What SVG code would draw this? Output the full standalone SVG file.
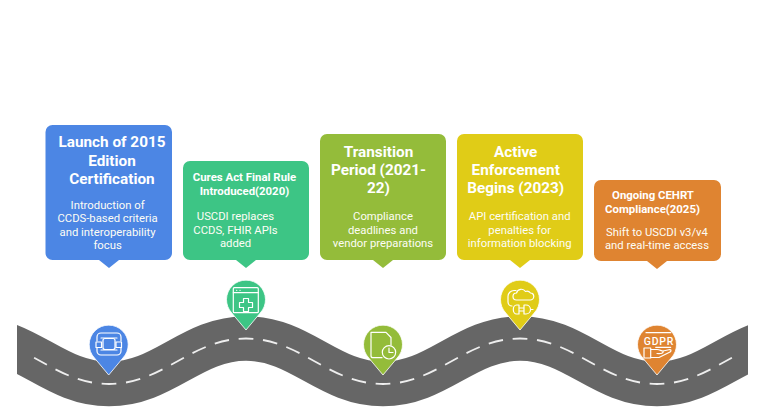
<svg xmlns="http://www.w3.org/2000/svg" width="768" height="411" viewBox="0 0 768 411">
<style>
text{font-family:Roboto,"Liberation Sans",sans-serif;fill:#fff;text-anchor:middle}
.t{font-weight:700}
.t1{font-size:15.3px}
.t2{font-size:11.4px}
.b{font-size:11.3px;fill:#fdfdf5}
.pin{stroke:#fff;stroke-width:1;stroke-opacity:.8}
.i{fill:none;stroke:#fff;stroke-width:1.2;stroke-linecap:round;stroke-linejoin:round}
.blue{fill:#4c86e4}.green{fill:#3dc585}.olive{fill:#94bc3a}.yellow{fill:#e0cc17}.orange{fill:#df8431}
</style>
<defs>
<path id="p" d="M0 15 L-14.2 -2 A19.5 19.5 0 1 1 14.2 -2 Z"/>
<clipPath id="rc"><rect x="17" y="300" width="731" height="111"/></clipPath>
<clipPath id="dc"><rect x="31" y="300" width="704" height="111"/></clipPath>
</defs>
<rect width="768" height="411" fill="#fff"/>
<g id="road">
<g clip-path="url(#rc)"><path d="M-28 338.5C27 338.5 54 384 109 384C164 384 191 338.5 246 338.5C301 338.5 328 384 383 384C438 384 465 338.5 520 338.5C575 338.5 602 384 657 384C712 384 739 338.5 794 338.5" fill="none" stroke="#666" stroke-width="44.500"/></g>
<g clip-path="url(#dc)"><path d="M-28 338.5C27 338.5 54 384 109 384C164 384 191 338.5 246 338.5C301 338.5 328 384 383 384C438 384 465 338.5 520 338.5C575 338.5 602 384 657 384C712 384 739 338.5 794 338.5" pathLength="36" fill="none" stroke="#eee" stroke-width="1.800" stroke-dasharray=".6 .4" stroke-dashoffset=".3"/></g>
</g>
<g id="card-2015">
<path class="blue" d="M52.500 125H165a7 7 0 0 1 7 7V253a7 7 0 0 1-7 7H119L109 268 99 260H52.500a7 7 0 0 1-7-7V132a7 7 0 0 1 7-7Z"/>
<text class="t t1" x="112" y="147.300">Launch of 2015</text>
<text class="t t1" x="112" y="166">Edition</text>
<text class="t t1" x="112" y="184.300">Certification</text>
<text class="b" x="107.600" y="208.500">Introduction of</text>
<text class="b" x="107.600" y="222">CCDS-based criteria</text>
<text class="b" x="107.600" y="235.700">and interoperability</text>
<text class="b" x="107.600" y="249">focus</text>
</g>
<g id="card-2020">
<path class="green" d="M190 161H302a7 7 0 0 1 7 7V253a7 7 0 0 1-7 7H256L246 268 236 260H190a7 7 0 0 1-7-7V168a7 7 0 0 1 7-7Z"/>
<text class="t t2" x="244.500" y="181">Cures Act Final Rule</text>
<text class="t t2" x="244.500" y="195">Introduced(2020)</text>
<text class="b" x="235.500" y="220">USCDI replaces</text>
<text class="b" x="235.500" y="233.700">CCDS, FHIR APIs</text>
<text class="b" x="235.500" y="247">added</text>
</g>
<g id="card-transition">
<path class="olive" d="M327 134H439a7 7 0 0 1 7 7V253a7 7 0 0 1-7 7H393L383 268 373 260H327a7 7 0 0 1-7-7V141a7 7 0 0 1 7-7Z"/>
<text class="t t1" x="378.500" y="156.700">Transition</text>
<text class="t t1" x="378.500" y="175">Period (2021-</text>
<text class="t t1" x="378.500" y="193.300">22)</text>
<text class="b" x="383" y="220">Compliance</text>
<text class="b" x="383" y="233.700">deadlines and</text>
<text class="b" x="383" y="247.300">vendor preparations</text>
</g>
<g id="card-2023">
<path class="yellow" d="M464 134H576a7 7 0 0 1 7 7V253a7 7 0 0 1-7 7H530L520 268 510 260H464a7 7 0 0 1-7-7V141a7 7 0 0 1 7-7Z"/>
<text class="t t1" x="515.700" y="156.700">Active</text>
<text class="t t1" x="515.700" y="175">Enforcement</text>
<text class="t t1" x="515.700" y="193.300">Begins (2023)</text>
<text class="b" x="519.700" y="220">API certification and</text>
<text class="b" x="519.700" y="233.700">penalties for</text>
<text class="b" x="519.700" y="247.300">information blocking</text>
</g>
<g id="card-2025">
<path class="orange" d="M601 180H714a7 7 0 0 1 7 7V254a7 7 0 0 1-7 7H667L657 269 647 261H601a7 7 0 0 1-7-7V187a7 7 0 0 1 7-7Z"/>
<text class="t t2" x="653" y="199">Ongoing CEHRT</text>
<text class="t t2" x="652.500" y="212.700">Compliance(2025)</text>
<text class="b" x="657" y="235.700">Shift to USCDI v3/v4</text>
<text class="b" x="657" y="249.300">and real-time access</text>
</g>
<g id="pin-2015">
<use href="#p" class="pin blue" x="108.700" y="360"/>
<path class="i" d="M97 341V337a4 4 0 0 1 4-4H117a4 4 0 0 1 4 4V341M97 348V351a4 4 0 0 0 4 4H117a4 4 0 0 0 4-4V348M101 338H117M101 350H117"/>
<rect class="i" x="103" y="338.500" width="12" height="11" rx="2"/>
<rect class="i" x="96" y="342" width="5.500" height="5.500"/>
<rect class="i" x="116" y="342" width="5.500" height="5.500"/>
</g>
<g id="pin-2020">
<use href="#p" class="pin green" x="246" y="315"/>
<rect class="i" x="233.300" y="287.700" width="25" height="25" rx="1"/>
<path class="i" d="M233.300 292.700H258.300M236.700 290.300h.1M240 290.300h.1M243.500 298.500h5v4h4v5h-4v4h-5v-4h-4v-5h4Z"/>
</g>
<g id="pin-transition">
<use href="#p" class="pin olive" x="383" y="360"/>
<path class="i" d="M382 357.700H373a2 2 0 0 1-2-2V332.300H386L391 337.500V345"/>
<circle class="i" cx="389" cy="352.300" r="6.700"/>
<path class="i" d="M389 348V352.500H393"/>
</g>
<g id="pin-2023">
<use href="#p" class="pin yellow" x="520" y="315"/>
<path class="i" d="M516 300H530a3.500 3.500 0 0 0 .5-7 4.500 4.500 0 0 0-5-1.500 5 5 0 0 0-9 1.500 3.500 3.500 0 0 0 0 7M516 290.500H514a6 6 0 0 0-6 6V302a4 4 0 0 0 4 4"/>
<path class="i" d="M519 305H516.500a3.200 4.500 0 0 0 0 9H519ZM524 305V314h2a4.500 4.500 0 0 0 0-9ZM519 308H524M519 311H524M530.500 309.500H533"/>
</g>
<g id="pin-2025">
<use href="#p" class="pin orange" x="657" y="360"/>
<path class="i" d="M646 332.700H670.700M655.700 347.300H670.700M651 349.500H657C660 349.500 661 351 663 351L670 349.500C671.500 349.500 671 351.500 670 352L659 357.500H651M663 351C664 353 661 354 657 353.500"/>
<rect class="i" x="644" y="348" width="6.700" height="10"/>
<text x="659" y="344.500" style="font-size:10.500px;font-weight:500;letter-spacing:.8px">GDPR</text>
</g>
</svg>
